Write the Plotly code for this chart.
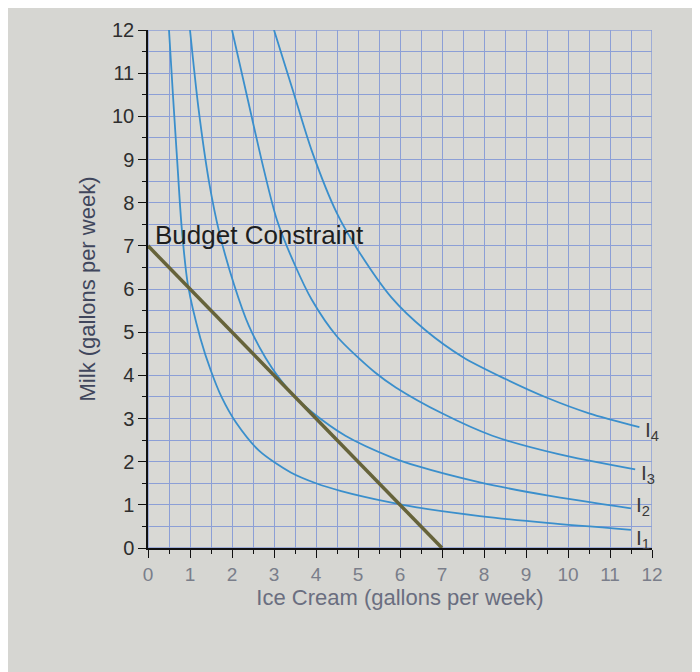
import plotly.graph_objects as go

# Indifference curves (ice cream gallons, milk gallons)
i1_x = [0.5, 0.6, 0.7, 0.8, 0.95, 1.25, 1.5, 1.75, 2.1, 2.65, 3.4, 4.0, 4.6, 5.8, 6.4, 7.9, 9.5, 11.5]
i1_y = [12, 10.4, 8.9, 7.45, 6.1, 4.85, 4.1, 3.5, 2.9, 2.25, 1.75, 1.5, 1.32, 1.05, 0.94, 0.74, 0.58, 0.42]

i2_x = [1.0, 1.2, 1.45, 1.7, 2.05, 2.4, 2.8, 3.15, 3.5, 3.9, 4.7, 5.8, 6.4, 7.9, 9.5, 11.5]
i2_y = [12, 10.2, 8.5, 7.3, 6.1, 5.15, 4.4, 3.9, 3.5, 3.15, 2.6, 2.1, 1.9, 1.52, 1.22, 0.92]

i3_x = [2.0, 2.35, 2.75, 3.07, 3.5, 3.9, 4.5, 5.4, 5.9, 7.0, 8.2, 9.75, 11.6]
i3_y = [12, 10.5, 8.8, 7.6, 6.55, 5.75, 4.9, 4.07, 3.72, 3.12, 2.6, 2.18, 1.82]

i4_x = [3.0, 3.45, 3.9, 4.5, 5.0, 5.8, 6.6, 7.5, 8.5, 9.5, 10.5, 11.7]
i4_y = [12, 10.6, 9.2, 7.75, 6.9, 5.8, 5.05, 4.42, 3.92, 3.48, 3.12, 2.8]

curve_names = ['1', '2', '3', '4']

# Budget constraint
budget_x = [0, 7]
budget_y = [7, 0]

tick_vals = list(range(0, 13))

curve_color = '#3a8fcc'
grid_color = '#8c9fd6'
font_family = 'Liberation Sans, Arial'

fig = go.Figure()

curves = [(i1_x, i1_y), (i2_x, i2_y), (i3_x, i3_y), (i4_x, i4_y)]
label_shift = [-0.2, 0.05, -0.1, -0.1]  # keep I1 and I2 labels apart
for (cx, cy), name, dy in zip(curves, curve_names, label_shift):
    fig.add_trace(go.Scatter(
        x=cx, y=cy, mode='lines',
        line=dict(color=curve_color, width=1.8, shape='spline', smoothing=0.8),
        hoverinfo='skip', showlegend=False
    ))
    # label at the right end of each curve
    fig.add_annotation(
        x=cx[-1] + 0.08, y=cy[-1] + dy, text='I<sub>' + name + '</sub>',
        showarrow=False, xanchor='left', yanchor='middle',
        font=dict(size=21, color='#3a3a3a', family=font_family)
    )

fig.add_trace(go.Scatter(
    x=budget_x, y=budget_y, mode='lines', line=dict(color='#66633a', width=3.5),
    hoverinfo='skip', showlegend=False
))

fig.add_annotation(
    x=budget_x[0] + 0.12, y=budget_y[0] + 0.25, text='Budget Constraint',
    showarrow=False, xanchor='left', yanchor='middle',
    font=dict(size=26, color='#1e1e1e', family=font_family)
)

# blue border round the grid
fig.add_shape(type='rect', x0=0, y0=0, x1=12, y1=12,
              line=dict(color=grid_color, width=1.5), layer='below')

axis_common = dict(
    range=[0, 12], tickvals=tick_vals, showgrid=True, gridcolor=grid_color, gridwidth=1.3,
    showline=True, linecolor='#111', linewidth=1.5, ticks='outside', ticklen=8,
    tickcolor='#111', zeroline=False,
    minor=dict(dtick=0.5, showgrid=True, gridcolor=grid_color, gridwidth=1.3,
               ticks='outside', ticklen=4, tickcolor='#111'),
)

fig.update_xaxes(
    **axis_common,
    title=dict(text='Ice Cream (gallons per week)',
               font=dict(size=22, color='#6a6e80', family=font_family), standoff=0),
    tickfont=dict(size=19, color='#7a7e8a', family=font_family),
)
fig.update_yaxes(
    **axis_common,
    title=dict(text='Milk (gallons per week)',
               font=dict(size=22, color='#40465c', family=font_family), standoff=10),
    tickfont=dict(size=20, color='#2e2e2e', family=font_family),
)

fig.update_layout(
    width=700, height=672,
    margin=dict(l=140, r=56, t=22, b=132),
    plot_bgcolor='#d9d9d5',
    paper_bgcolor='#d6d6d2',
    font=dict(family=font_family),
)

fig.write_html("out.html")
